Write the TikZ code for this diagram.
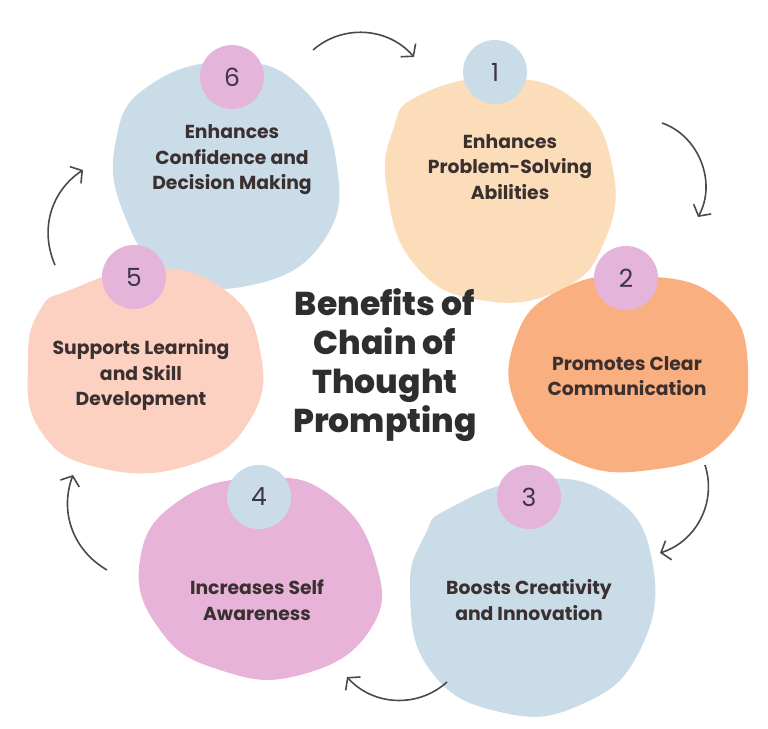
\documentclass[tikz,border=0pt]{standalone}
\usepackage{fontspec}
\setmainfont{Poppins}
\newfontfamily\headfont{Poppins ExtraBold}
\usetikzlibrary{arrows.meta}
\definecolor{blobblue}{HTML}{C9DCE8}
\definecolor{blobpeach}{HTML}{FCDDB9}
\definecolor{bloborange}{HTML}{F9AF80}
\definecolor{blobpink}{HTML}{E8B3D8}
\definecolor{blobsalmon}{HTML}{FDD1C2}
\definecolor{numpink}{HTML}{E5B4DB}
\definecolor{inkdark}{HTML}{3A3030}
\definecolor{numdark}{HTML}{3B3350}
\definecolor{arrowgrey}{HTML}{4A4A4A}

\begin{document}
\begin{tikzpicture}[x=1pt, y=-1pt,
    benefit/.style={font=\bfseries\fontsize{18.8}{25.5}\selectfont, text=inkdark, align=center},
    numdot/.style={circle, minimum size=64pt, inner sep=0pt, font=\fontsize{25}{25}\selectfont, text=numdark},
    arr/.style={-{Straight Barb[length=8pt,width=20pt]}, line width=1.6pt, draw=arrowgrey}
]
\fill[white] (0,0) rectangle (768,728);
\useasboundingbox (0,0) rectangle (768,728);

\fill[blobblue] plot[smooth cycle, tension=0.8] coordinates {(150,85) (230,62) (300,86) (336,160) (324,240) (252,285) (170,274) (124,214) (116,140)};
\fill[blobpeach] plot[smooth cycle, tension=0.8] coordinates {(420,95) (500,78) (575,100) (612,165) (605,240) (560,290) (480,300) (415,265) (387,190) (393,130)};
\fill[bloborange] plot[smooth cycle, tension=0.8] coordinates {(560,290) (640,276) (720,300) (748,370) (725,440) (650,470) (570,460) (518,410) (515,340)};
\fill[blobblue] plot[smooth cycle, tension=0.8] coordinates {(450,508) (530,480) (610,495) (652,560) (640,650) (580,705) (500,712) (430,670) (410,590) (425,535)};
\fill[blobpink] plot[smooth cycle, tension=0.8] coordinates {(180,500) (260,478) (330,495) (375,560) (370,630) (300,675) (220,670) (160,630) (140,560)};
\fill[blobsalmon] plot[smooth cycle, tension=0.8] coordinates {(70,290) (150,268) (225,290) (260,350) (250,420) (190,465) (100,468) (40,430) (28,360) (40,310)};

\node[numdot, fill=numpink] (n6) at (232,77) {6};
\node[numdot, fill=blobblue] (n1) at (495,72) {1};
\node[numdot, fill=numpink] (n2) at (626,278) {2};
\node[numdot, fill=numpink] (n3) at (529,497) {3};
\node[numdot, fill=blobblue] (n4) at (259,497) {4};
\node[numdot, fill=numpink] (n5) at (134,277) {5};

\node[benefit] (b6) at (232,160) {Enhances\\Confidence and\\Decision Making};
\node[benefit] (b1) at (510,167) {Enhances\\Problem-Solving\\Abilities};
\node[benefit] (b2) at (627,376) {Promotes Clear\\Communication};
\node[benefit] (b3) at (529,600) {Boosts Creativity\\and Innovation};
\node[benefit] (b4) at (257,600) {Increases Self\\Awareness};
\node[benefit] (b5) at (141,375) {Supports Learning\\and Skill\\Development};

\node[font=\headfont\fontsize{33}{39}\selectfont, text=black!82, align=center] (title) at (385,365) {Benefits of\\Chain of\\Thought\\Prompting};

\coordinate (a61) at (313,50);
\coordinate (e61) at (414,57);
\coordinate (a12) at (662,123);
\coordinate (e12) at (698,217);
\coordinate (a23) at (705,465);
\coordinate (e23) at (660,553);
\coordinate (a34) at (447,682);
\coordinate (e34) at (347,677);
\coordinate (a45) at (107,570);
\coordinate (e45) at (73,475);
\coordinate (a56) at (55,265);
\coordinate (e56) at (83,170);

\draw[arr] (a61) to[bend left=45] (e61);
\draw[arr] (a12) to[bend left=50] (e12);
\draw[arr] (a23) to[bend left=45] (e23);
\draw[arr] (a34) to[bend left=45] (e34);
\draw[arr] (a45) to[bend left=40] (e45);
\draw[arr] (a56) to[bend left=40] (e56);
\end{tikzpicture}
\end{document}
